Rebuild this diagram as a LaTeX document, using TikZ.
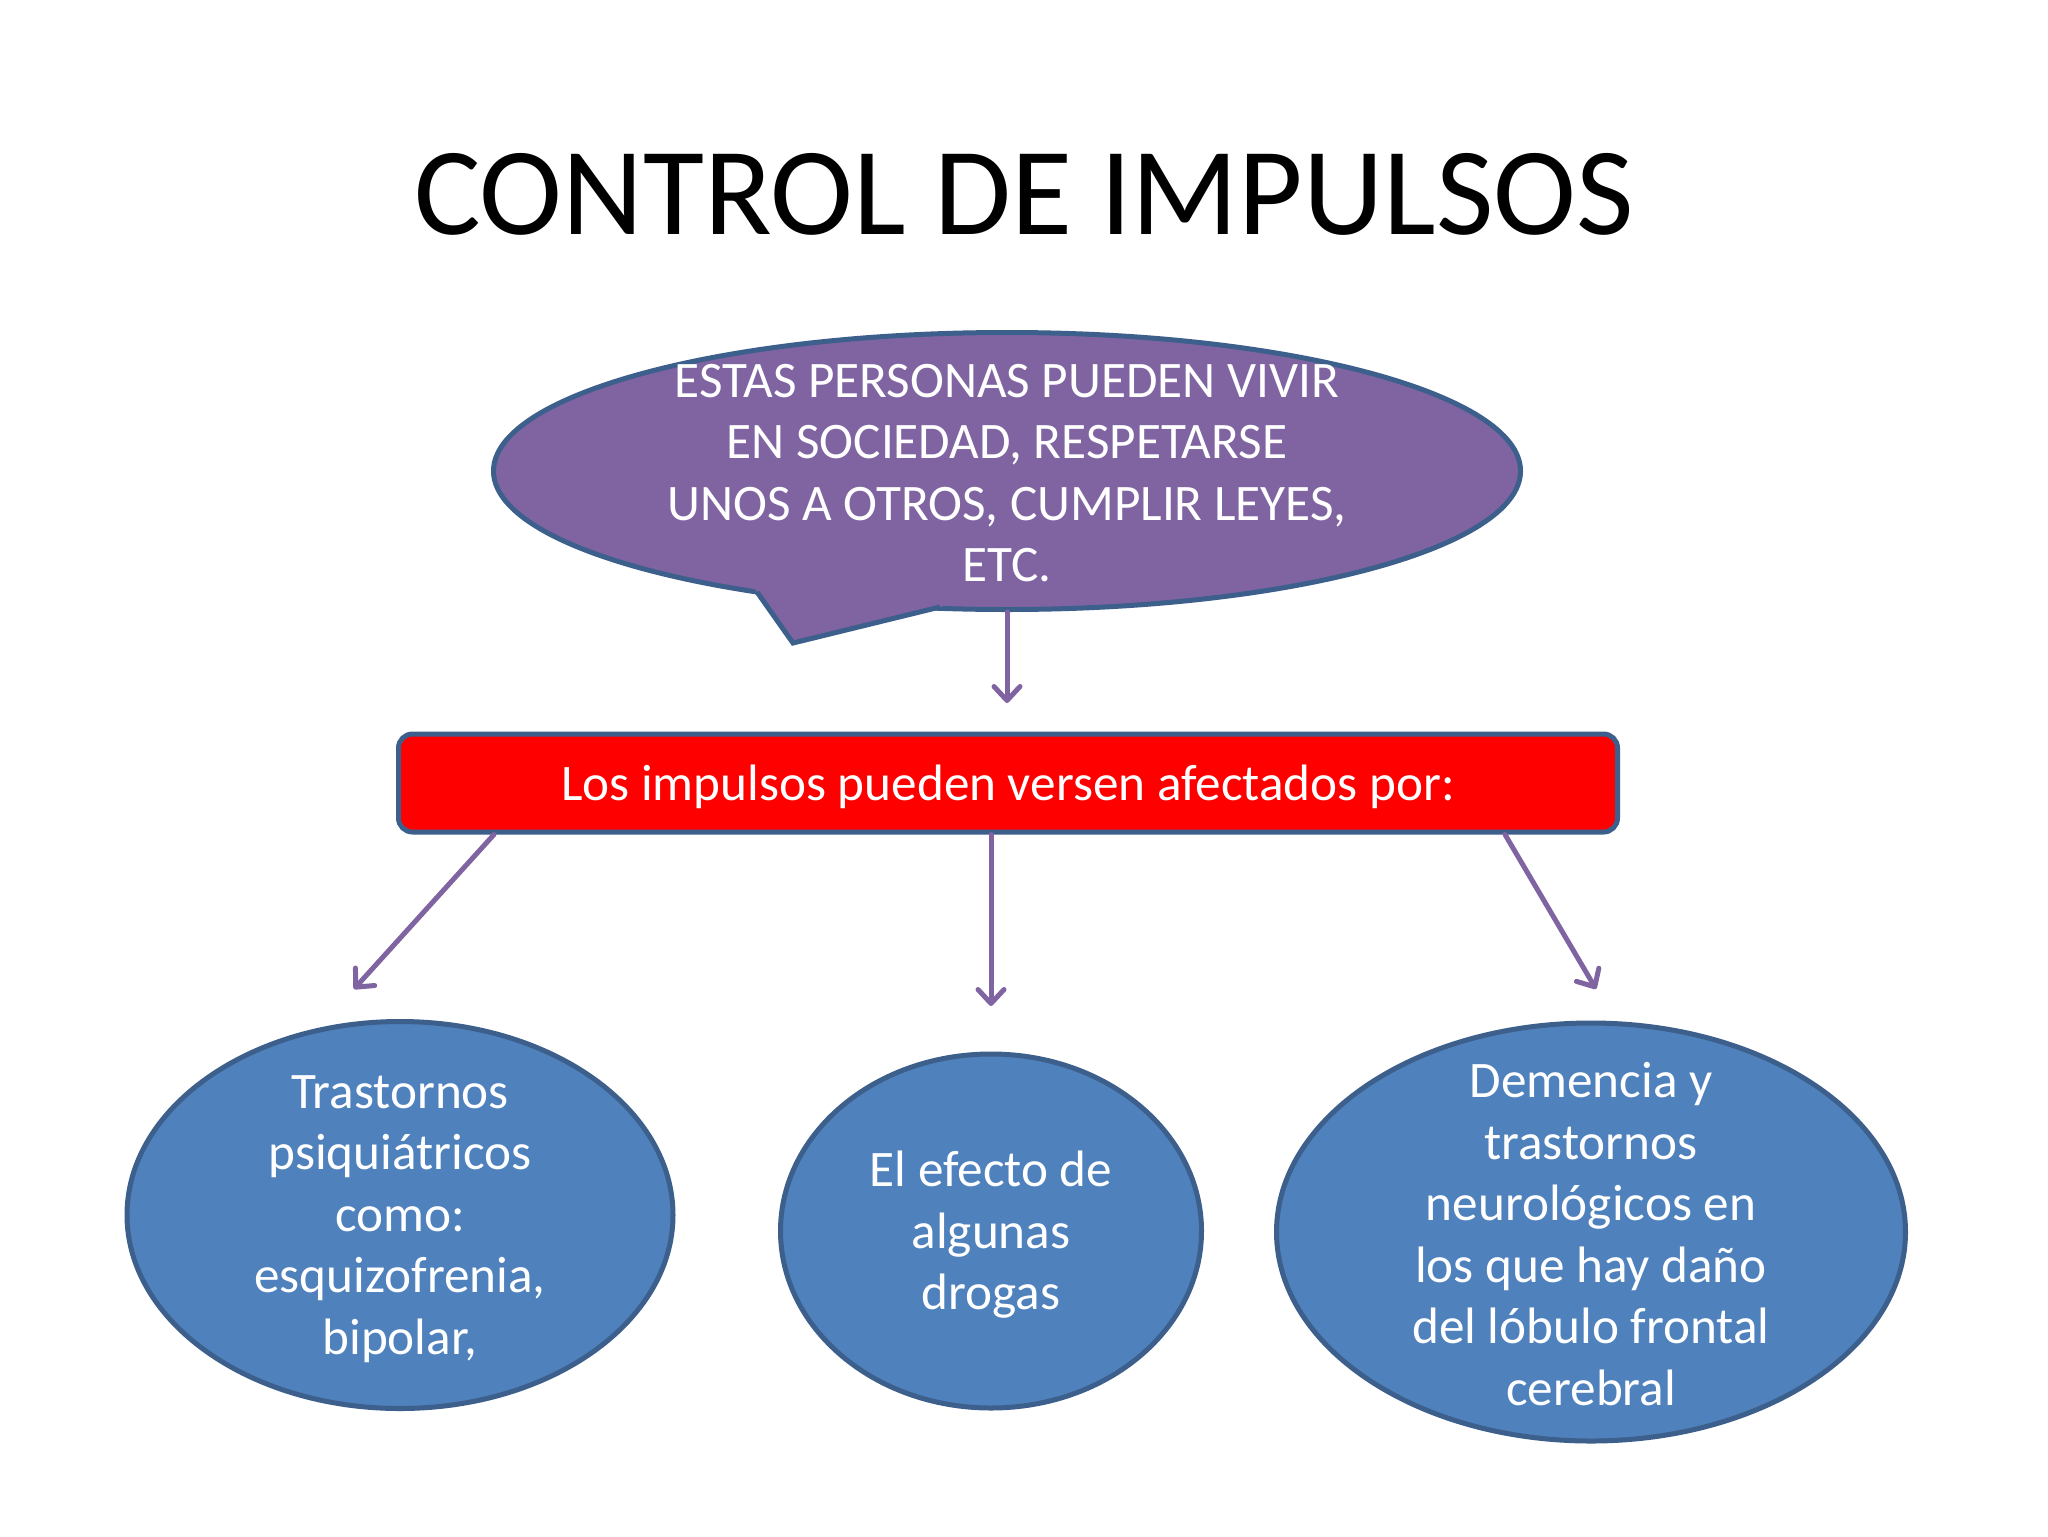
\documentclass[tikz,border=0pt]{standalone}
\usepackage{fontspec}
\setmainfont{Carlito}
\usetikzlibrary{shapes.geometric,arrows.meta}
\definecolor{purp}{HTML}{8064A2}
\definecolor{blu}{HTML}{4F81BD}
\definecolor{edgeblue}{HTML}{3C5F8C}
\definecolor{redbox}{HTML}{FF0000}
\tikzset{
  ell/.style={ellipse, draw=edgeblue, line width=2.5pt, inner sep=0pt},
  txt/.style={text=white, align=center, font=\fontsize{25.6}{30.8}\selectfont, inner sep=0pt},
  conn/.style={draw=purp, line width=2.5pt, line cap=round, -{Straight Barb[length=7pt,width=13pt,round]}},
}
\begin{document}
\begin{tikzpicture}[x=0.5pt,y=-0.5pt]
\useasboundingbox[fill=white] (0,0) rectangle (2048,1536);
% title
\node[anchor=base, font=\fontsize{62.5}{66}\selectfont, inner sep=0pt] (title) at (1024,234) {CONTROL DE IMPULSOS};
% speech bubble
\node[ell, fill=purp, minimum width=513.5pt, minimum height=138.5pt] (bubble) at (1007,471) {};
\fill[purp] (751.6,584.3) -- (793,643) -- (954.7,603.4) -- cycle;
\draw[edgeblue, line width=2.5pt, line join=miter] (757,592) -- (793,643) -- (940,607);
\node[txt] (bubbletext) at (1007,473) {ESTAS PERSONAS PUEDEN VIVIR\\EN SOCIEDAD, RESPETARSE\\UNOS A OTROS, CUMPLIR LEYES,\\ETC.};
% red box
\node[draw=edgeblue, line width=2.5pt, fill=redbox, rounded corners=7pt, minimum width=609.5pt, minimum height=49pt, inner sep=0pt] (box) at (1008,783) {};
\node[text=white, font=\fontsize{25.6}{30.8}\selectfont, inner sep=0pt] (boxtext) at (1008,787) {Los impulsos pueden versen afectados por:};
% ellipses
\node[ell, fill=blu, minimum width=273pt, minimum height=193.5pt] (e1) at (400,1215) {};
\node[txt] (t1) at (400,1219) {Trastornos\\psiquiátricos\\como:\\esquizofrenia,\\bipolar,};
\node[ell, fill=blu, minimum width=210.5pt, minimum height=177pt] (e2) at (991,1231) {};
\node[txt] (t2) at (991,1235) {El efecto de\\algunas\\drogas};
\node[ell, fill=blu, minimum width=314.5pt, minimum height=209pt] (e3) at (1591,1232) {};
\node[txt] (t3) at (1591,1234) {Demencia y\\trastornos\\neurológicos en\\los que hay daño\\del lóbulo frontal\\cerebral};
% connectors
\coordinate (a0) at (1007,703);
\coordinate (a1) at (354,989);
\coordinate (a2) at (991,1006);
\coordinate (a3) at (1596,989);
\draw[conn] (bubble.south -| a0) -- (a0);
\draw[conn] (box.south -| 494,0) -- (a1);
\draw[conn] (box.south -| a2) -- (a2);
\draw[conn] (box.south -| 1505,0) -- (a3);
\end{tikzpicture}
\end{document}
